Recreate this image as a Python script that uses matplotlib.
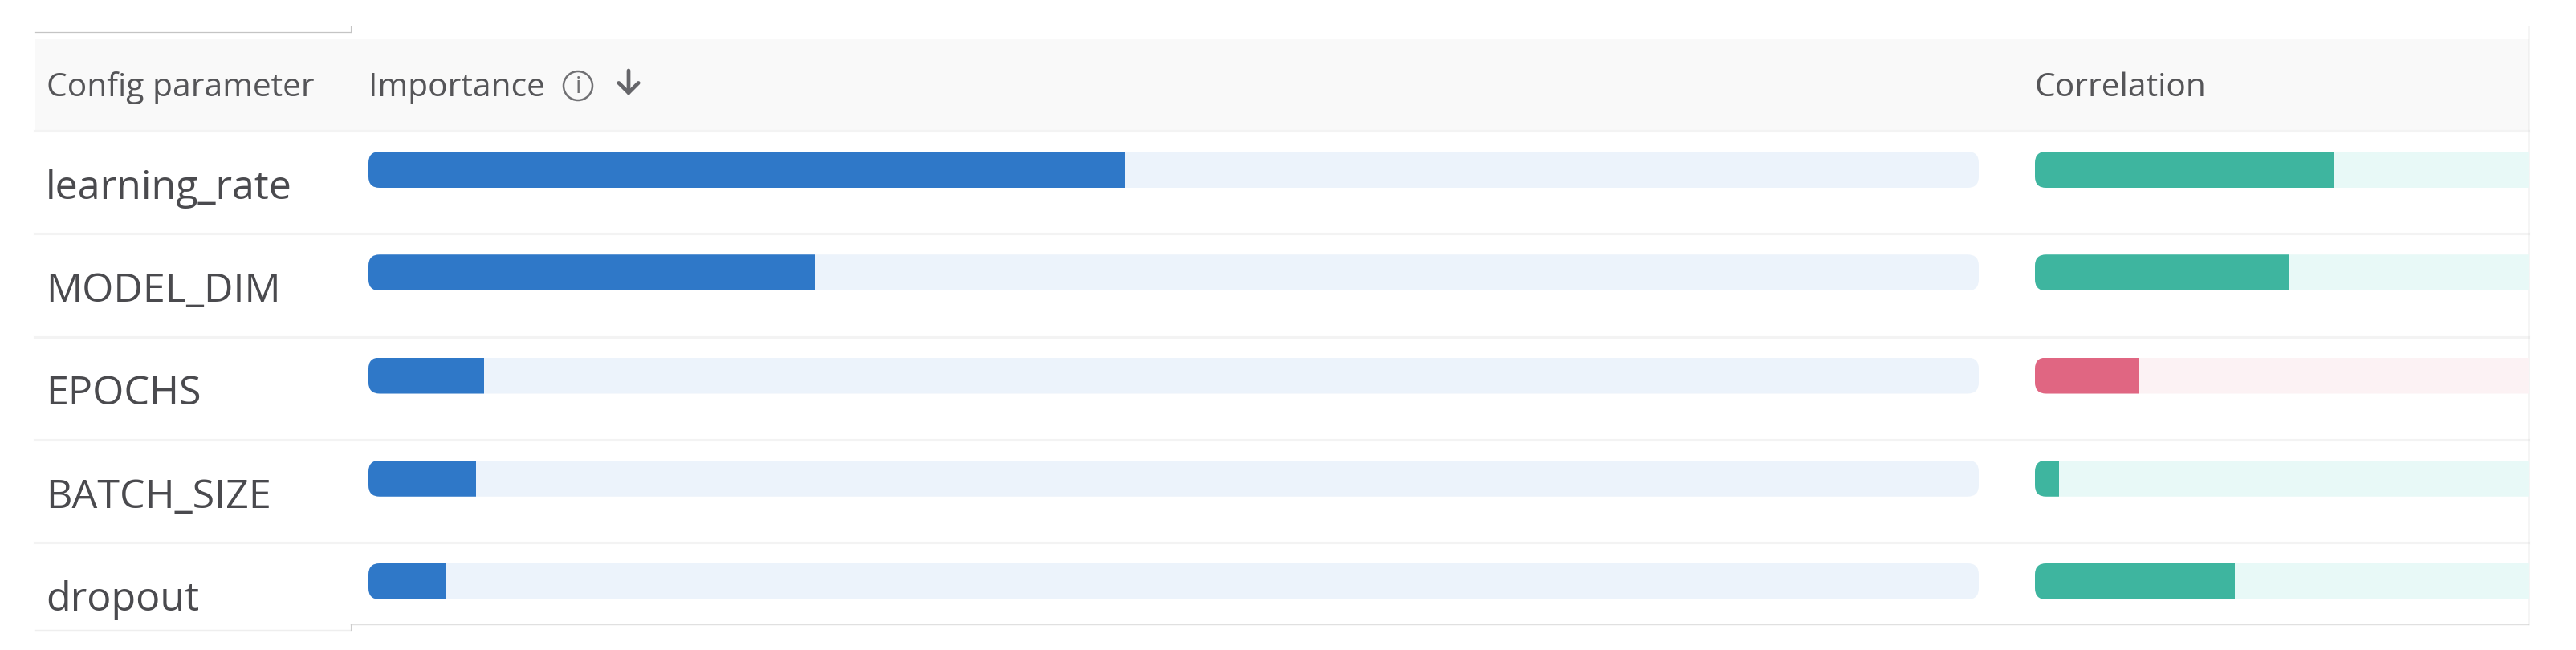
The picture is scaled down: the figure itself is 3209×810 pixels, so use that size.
"""
Table d'importance des parametres de config
"""
import matplotlib
matplotlib.use("Agg")
import matplotlib.pyplot as plt
from matplotlib.patches import FancyBboxPatch, Circle
from matplotlib.transforms import Affine2D

parametres = ["learning_rate", "MODEL_DIM", "EPOCHS", "BATCH_SIZE", "dropout"]
importance = [0.470, 0.277, 0.072, 0.067, 0.048]
correlation = [0.186, 0.158, -0.065, 0.015, 0.124]
entetes = ["Config parameter", "Importance", "Correlation"]

W, H = 3209, 810
PAS = 128.25
plt.rcParams["font.family"] = ["Open Sans", "DejaVu Sans"]

fig = plt.figure(figsize=(W / 100, H / 100), dpi=100, facecolor="white")

# fond en pixels pour le cadre du tableau
bg = fig.add_axes([0, 0, 1, 1])
bg.set_xlim(0, W)
bg.set_ylim(H, 0)
bg.axis("off")

bg.fill_between([43, 3150], 48, 163, color="#f9f9f9", lw=0)
for y in [163, 291, 420, 548, 676]:
    bg.plot([43, 3150], [y, y], color="#f3f3f3", lw=2.2)
bg.plot([43, 437], [785, 785], color="#eeeeee", lw=1)
bg.plot([437, 3150], [778, 778], color="#e0e0e0", lw=1)
bg.plot([437, 437], [778, 785], color="#cccccc", lw=0.8)
bg.plot([43, 437], [40, 40], color="#c4c4c4", lw=0.9)
bg.plot([437, 437], [33, 40], color="#c4c4c4", lw=0.8)
bg.plot([3150, 3150], [33, 778], color="#b5b5b5", lw=0.9)

# en-tetes
couleur_entete = "#555558"
for x, nom in zip([58, 459, 2534], entetes):
    bg.text(x, 120, nom, fontsize=29.3, color=couleur_entete, va="baseline", ha="left")

# icones info et fleche
bg.add_patch(Circle((720, 107), 18, fill=False, ec="#707073", lw=1.8))
bg.text(720, 108, "i", fontsize=21, color="#707073", ha="center", va="center")
bg.annotate("", xy=(783, 119), xytext=(783, 88),
            arrowprops=dict(arrowstyle="->,head_width=0.42,head_length=0.42", mutation_scale=21,
                            color="#66666a", lw=3.4, shrinkA=0, shrinkB=0))

# noms des parametres
for i, nom in enumerate(parametres):
    bg.text(57, 248 + PAS * i, nom, fontsize=36.2, color="#4a4a4e", va="baseline", ha="left")


def masque_arrondi(ax, i, largeur, fin):
    # rectangle arrondi de 14 px de rayon, construit en pixels puis ramene aux donnees
    x0, x1 = ax.get_xlim()
    px = (x1 - x0) / (ax.get_position().width * W)
    py = 1 / PAS
    return FancyBboxPatch((0, (i - largeur / 2) / py), fin / px, largeur / py,
                          boxstyle="round,pad=0,rounding_size=14", visible=False,
                          transform=Affine2D().scale(px, py) + ax.transData)


def barres(position, xmax, valeurs, couleur_pos, fond_pos, couleur_neg, fond_neg, coupe):
    ax = fig.add_axes(position)
    ax.set_xlim(0, xmax)
    ax.set_ylim(len(valeurs) - 0.5, -0.5)
    ax.axis("off")
    ax.patch.set_alpha(0)
    largeur = 45 / PAS
    # colonne coupee a droite : le masque depasse pour garder le bord droit carre
    fin = xmax * 1.2 if coupe else xmax
    for i, v in enumerate(valeurs):
        masque = masque_arrondi(ax, i, largeur, fin)
        ax.add_patch(masque)
        fond = ax.barh(i, fin, height=largeur, color=fond_pos if v >= 0 else fond_neg, lw=0)[0]
        barre = ax.barh(i, abs(v), height=largeur, color=couleur_pos if v >= 0 else couleur_neg, lw=0)[0]
        fond.set_clip_path(masque)
        barre.set_clip_path(masque)
    ax.set_xlim(0, xmax)
    return ax


def rect_axes(x0, x1, y0, y1):
    return [x0 / W, 1 - y1 / H, (x1 - x0) / W, (y1 - y0) / H]


haut = 211.5 - PAS / 2
bas = haut + PAS * 5
barres(rect_axes(459, 2465, haut, bas), 1.0, importance,
       "#2f78c8", "#ecf3fb", "#2f78c8", "#ecf3fb", False)
barres(rect_axes(2535, 3150, haut, bas), 615 / 2006, correlation,
       "#3eb59f", "#e8f9f7", "#e06682", "#fcf2f4", True)

fig.savefig("out.png", dpi=100, facecolor="white")
